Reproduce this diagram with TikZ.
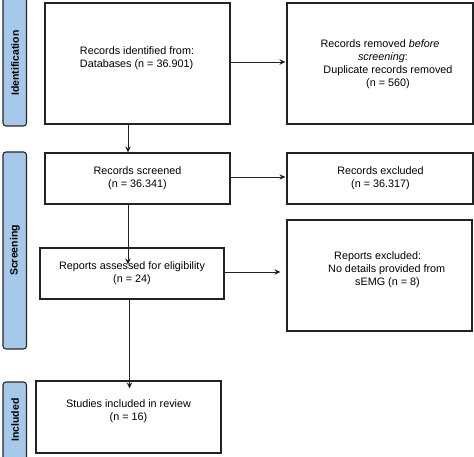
\documentclass[tikz,border=0pt]{standalone}
\usepackage{fontspec}
\setmainfont{Liberation Sans}
\usetikzlibrary{arrows.meta}
\definecolor{barfill}{HTML}{A6C8EA}
\definecolor{lineclr}{HTML}{222222}
\tikzset{
  box/.style={draw=lineclr, line width=1.1pt, fill=white, inner sep=0pt},
  boxtext/.style={font=\fontsize{10.8}{13}\selectfont, align=center, inner sep=0pt},
  bar/.style={draw=black!85, line width=1.1pt, fill=barfill, rounded corners=3pt},
  barlabel/.style={font=\fontsize{10.5}{12}\selectfont\bfseries, rotate=90, inner sep=0pt},
  arr/.style={draw=lineclr, line width=0.8pt, -{Stealth[length=6pt,width=5.5pt]}}
}
\begin{document}
\begin{tikzpicture}[x=1pt,y=-1pt]
\useasboundingbox (0,0) rectangle (474,457);
\begin{scope}
\clip (0,0) rectangle (474,457);
% side bars
\draw[bar] (3,-3) rectangle (26.5,126);
\node[barlabel] (lid) at (15,63) {Identification};
\draw[bar] (3,152) rectangle (26.5,349);
\node[barlabel] (lsc) at (15,250.5) {Screening};
\draw[bar] (3,382) rectangle (26.5,462);
\node[barlabel] (lin) at (15,420) {Included};
\end{scope}
% boxes
\node[box, minimum width=185pt, minimum height=121pt] (b1) at (137.5,63.5) {};
\node[boxtext, align=left] (t1) at (137,58) {Records identified from:\\Databases (n = 36.901)};
\node[box, minimum width=186pt, minimum height=121pt] (b2) at (380,63.5) {};
\node[boxtext] (t2) at (383,64) {Records removed \textit{before}\hspace*{6pt}\\\textit{screening}:\hspace*{6pt}\\\hspace*{10pt}Duplicate records removed\\\hspace*{10pt}(n = 560)};
\node[box, minimum width=185pt, minimum height=51pt] (b3) at (137.5,178.5) {};
\node[boxtext] (t3) at (137.5,178) {Records screened\\(n = 36.341)};
\node[box, minimum width=186pt, minimum height=51pt] (b4) at (380,178.5) {};
\node[boxtext] (t4) at (380.5,178) {Records excluded\\(n = 36.317)};
\node[box, minimum width=184pt, minimum height=51pt] (b5) at (132,273.5) {};
\node[boxtext] (t5) at (132,273) {Reports assessed for eligibility\\(n = 24)};
\node[box, minimum width=185pt, minimum height=111pt] (b6) at (379.5,275.5) {};
\node[boxtext, align=left, anchor=west] (t6) at (328,270) {\hspace*{6pt}Reports excluded:\\No details provided from\\\hspace*{27pt}sEMG (n = 8)};
\node[box, minimum width=185pt, minimum height=72pt] (b7) at (128.5,417) {};
\node[boxtext] (t7) at (128.5,411) {Studies included in review\\(n = 16)};
% connectors
\draw[arr] (b1.east |- 0,62) -- ([xshift=-1pt]b2.west |- 0,62);
\draw[arr] ([xshift=-9.5pt]b1.south) -- ([xshift=-9.5pt]b3.north);
\draw[arr] (b3.east |- 0,177) -- ([xshift=-1pt]b4.west |- 0,177);
\draw[arr] ([xshift=-9.5pt]b3.south) -- ([xshift=-9.5pt,yshift=-17pt]b3.south |- b5.north);
\draw[arr] (b5.east |- 0,272) -- ([xshift=-6pt]b6.west |- 0,272);
\draw[arr] ([xshift=-2.5pt]b5.south) -- ([xshift=1pt,yshift=-8pt]b7.north);
\end{tikzpicture}
\end{document}
